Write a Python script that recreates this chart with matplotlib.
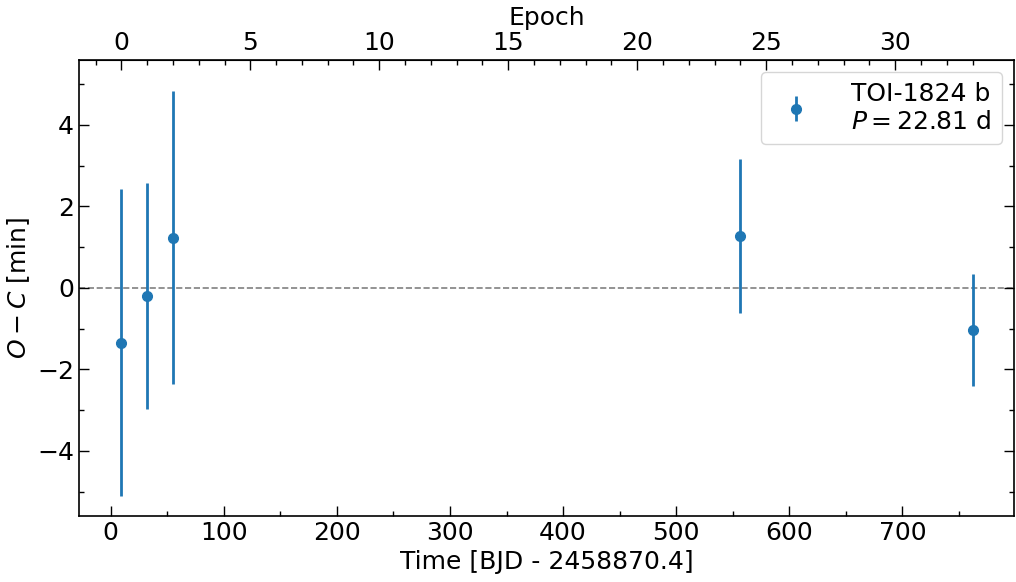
import numpy as np
import matplotlib.pyplot as plt
from matplotlib.ticker import MultipleLocator, FixedLocator

# transit timing data
t0 = 9.4
period = 22.81
epochs = np.array([0, 1, 2, 24, 33])
oc = np.array([-1.35, -0.20, 1.23, 1.28, -1.03])
oc_err = np.array([3.77, 2.77, 3.59, 1.89, 1.37])
times = t0 + epochs * period
epoch_ticks = [0, 5, 10, 15, 20, 25, 30]

plt.rcParams['font.size'] = 18

fig = plt.figure(figsize=(10.16, 5.82), dpi=100)
ax = fig.add_axes([0.0778, 0.1134, 0.9205, 0.784])

ax.axhline(0, color='gray', ls='--', lw=1.2, zorder=1)
ax.errorbar(times, oc, yerr=oc_err, fmt='o', color='#1f77b4', ms=7, elinewidth=2,
            label='TOI-1824 b\n$P = 22.81$ d', zorder=3)

ax.set_xlim(-28, 799)
ax.set_ylim(-5.6, 5.6)
ax.xaxis.set_major_locator(MultipleLocator(100))
ax.xaxis.set_minor_locator(MultipleLocator(50))
ax.yaxis.set_major_locator(MultipleLocator(2))
ax.yaxis.set_minor_locator(MultipleLocator(1))
ax.tick_params(which='both', direction='in', right=True, top=False)
ax.tick_params(which='major', length=7, width=1)
ax.tick_params(which='minor', length=3.5, width=1)
for s in ax.spines.values():
    s.set_linewidth(1.2)

ax.set_xlabel('Time [BJD - 2458870.4]', labelpad=4)
ax.set_ylabel('$O - C$ [min]')

# epoch axis on top
sec = ax.secondary_xaxis('top', functions=(lambda t: (t - t0) / period,
                                           lambda e: e * period + t0))
sec.xaxis.set_major_locator(FixedLocator(epoch_ticks))
sec.xaxis.set_minor_locator(FixedLocator(list(range(-1, 34))))
sec.tick_params(which='both', direction='in')
sec.tick_params(which='major', length=7, width=1)
sec.tick_params(which='minor', length=3.5, width=1)
sec.set_xlabel('Epoch', labelpad=4)

ax.legend(loc='upper right', handletextpad=1.2)

fig.savefig('out.png', dpi=100)
